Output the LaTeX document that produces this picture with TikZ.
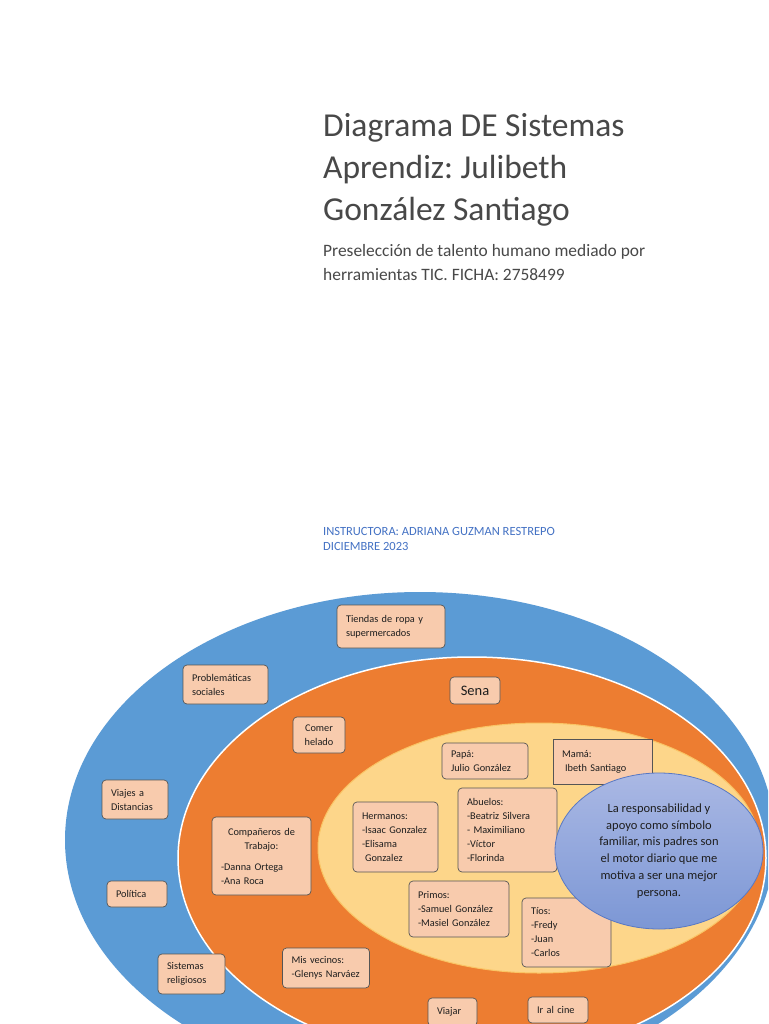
\documentclass[tikz,border=0pt]{standalone}
\usepackage{fontspec}
\setmainfont{Carlito}
\frenchspacing
\usetikzlibrary{shapes.geometric}
\definecolor{blueE}{RGB}{91,155,213}
\definecolor{orangeE}{RGB}{237,125,49}
\definecolor{yellowE}{RGB}{253,214,138}
\definecolor{yellowLine}{RGB}{250,196,100}
\definecolor{boxfill}{RGB}{248,203,173}
\definecolor{boxline}{RGB}{85,85,85}
\definecolor{purpTop}{RGB}{170,184,228}
\definecolor{purpBot}{RGB}{124,151,213}
\definecolor{purpLine}{RGB}{88,120,196}
\definecolor{titlegray}{RGB}{72,72,72}
\definecolor{instblue}{RGB}{68,114,196}
\definecolor{txt}{RGB}{30,30,30}
\begin{document}
\begin{tikzpicture}[x=1pt,y=-1pt,
  txtnode/.style={inner sep=0pt, anchor=base west},
  titlef/.style={txtnode, text=titlegray, font=\fontsize{33.5}{40}\selectfont},
  subf/.style={txtnode, text=titlegray, font=\fontsize{17.4}{22}\selectfont},
  instf/.style={txtnode, text=instblue, font=\fontsize{12.5}{15}\selectfont},
  bx/.style={draw=boxline, fill=boxfill, rounded corners=4pt, line width=0.7pt,
    text=txt, font=\fontsize{10.3}{14}\selectfont, align=left,
    inner xsep=9pt, inner ysep=0pt, anchor=center},
  bxc/.style={bx, align=center}
]
\useasboundingbox (0,0) rectangle (768,1024);
\clip (0,0) rectangle (768,1024);
\fill[white] (0,0) rectangle (768,1024);

% titles
\node[titlef] (t1) at (323,137) {Diagrama DE Sistemas};
\node[titlef] (t2) at (323,179) {Aprendiz: Julibeth};
\node[titlef] (t3) at (323,221) {González Santiago};
\node[subf] (s1) at (323,256) {Preselección de talento humano mediado por};
\node[subf] (s2) at (323,280) {herramientas TIC. FICHA: 2758499};
\node[instf] (i1) at (323,535) {INSTRUCTORA: ADRIANA GUZMAN RESTREPO};
\node[instf] (i2) at (323,550) {DICIEMBRE 2023};

% system ellipses
\fill[blueE] (420,840) ellipse [x radius=355, y radius=248];
\filldraw[fill=orangeE, draw=white, line width=1.5pt] (472,858) ellipse [x radius=294, y radius=201];
\filldraw[fill=yellowE, draw=yellowLine, line width=1pt] (539,848) ellipse [x radius=221, y radius=125];

% outer ring boxes
\node[bx, text width=90pt, minimum height=43pt] (tiendas) at (391,626.5) {Tiendas de ropa y\\supermercados};
\node[bx, text width=67pt, minimum height=39pt] (problem) at (225.5,684.5) {Problemáticas\\sociales};
\node[bx, text width=48pt, minimum height=39pt] (viajes) at (135,799.5) {Viajes a\\Distancias};
\node[bx, text width=42pt, minimum height=26pt] (politica) at (137,894) {Política};
\node[bx, text width=49pt, minimum height=40pt] (sistemas) at (191.5,974) {Sistemas\\religiosos};

% middle ring boxes
\node[bxc, text width=34pt, minimum height=36pt] (comer) at (319,735) {Comer\\helado};
\node[bxc, text width=32pt, minimum height=27pt, font=\fontsize{14.5}{16}\selectfont] (sena) at (475,690.5) {Sena};
\node[bx, text width=81pt, minimum height=78pt] (compa) at (261.5,856)
  {\centering Compañeros de\\Trabajo:\par\vspace{7pt}\raggedright -Danna Ortega\\-Ana Roca};
\node[bx, text width=69pt, minimum height=40pt] (vecinos) at (326,968) {Mis vecinos:\\-Glenys Narváez};
\node[bx, text width=31pt, minimum height=28pt] (viajar) at (452.5,1012) {Viajar};
\node[bx, text width=42pt, minimum height=26pt] (cine) at (558,1010) {Ir al cine};

% inner ring boxes
\node[bx, text width=68pt, minimum height=36pt] (papa) at (485,761) {Papá:\\Julio González};
\node[bx, rounded corners=0pt, text width=81pt, minimum height=45pt] (mama) at (602.5,761.5) {Mamá:\\\hspace*{3pt}Ibeth Santiago};
\node[bx, text width=67pt, minimum height=70pt] (hermanos) at (395.5,837) {Hermanos:\\-Isaac Gonzalez\\-Elisama\\\hspace*{3pt}Gonzalez};
\node[bx, text width=81pt, minimum height=84pt] (abuelos) at (507.5,830) {Abuelos:\\-Beatriz Silvera\\- Maximiliano\\-Víctor\\-Florinda};
\node[bx, text width=82pt, minimum height=56pt] (primos) at (459,909) {Primos:\\-Samuel González\\-Masiel González};
\node[bx, text width=71pt, minimum height=69pt] (tios) at (566.5,932.5) {Tíos:\\-Fredy\\-Juan\\-Carlos};

% central statement
\node[ellipse, draw=purpLine, line width=0.8pt, top color=purpTop, bottom color=purpBot,
  minimum width=208pt, minimum height=156pt, inner sep=0pt, align=center, text=txt,
  font=\fontsize{12.5}{16.7}\selectfont] (resp) at (659,851)
  {La responsabilidad y\\apoyo como símbolo\\familiar, mis padres son\\el motor diario que me\\motiva a ser una mejor\\persona.};
\end{tikzpicture}
\end{document}
